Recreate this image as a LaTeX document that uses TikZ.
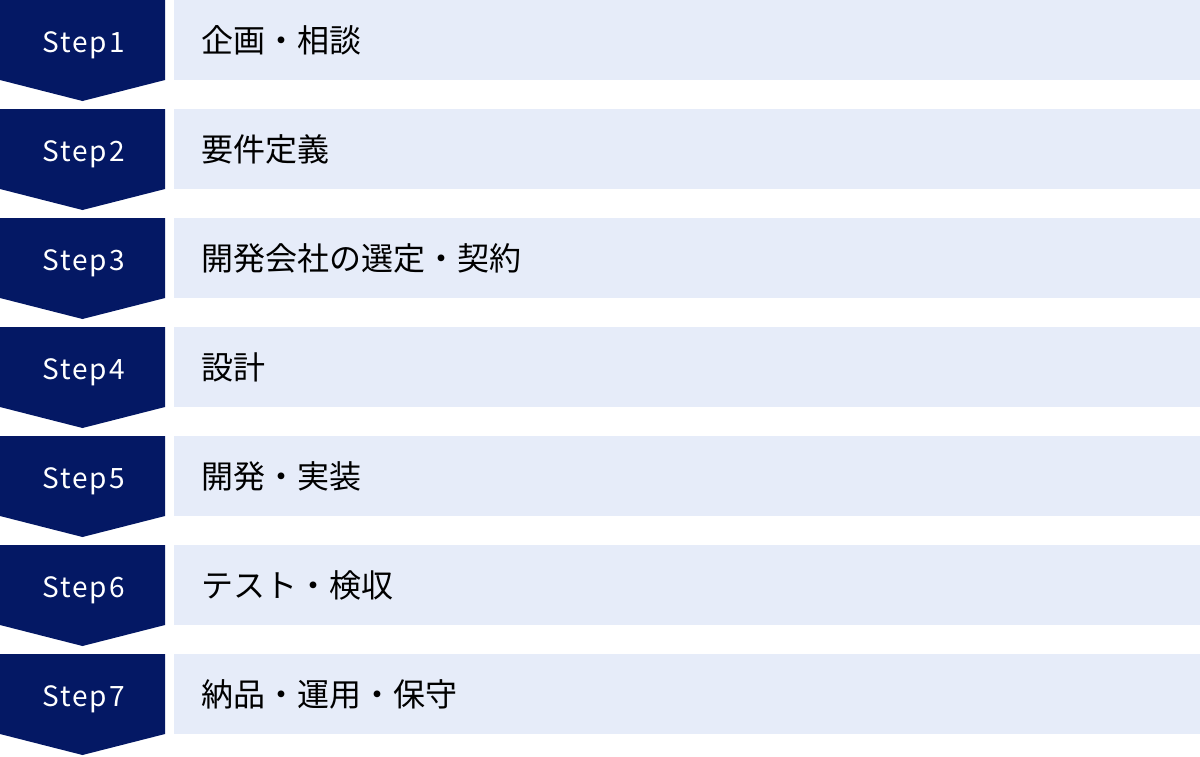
\documentclass[tikz,border=0pt]{standalone}
\usepackage{fontspec}
\setmainfont{Noto Sans CJK JP}
\newfontfamily\stepfont[LetterSpace=7]{Noto Sans CJK JP}
\usepackage{tikz}
\usepackage{xcolor}
\usetikzlibrary{positioning}
\definecolor{stepnavy}{RGB}{4, 24, 100}
\definecolor{steplight}{RGB}{230, 236, 249}
\tikzset{
    steparrow/.style={fill=stepnavy},
    steplabel/.style={text=white, anchor=base, inner sep=0pt, font=\stepfont\fontsize{28}{28}\selectfont},
    taskbar/.style={fill=steplight, anchor=north west, inner sep=0pt, minimum width=1026pt, minimum height=80pt},
    tasklabel/.style={anchor=west, inner sep=0pt, font=\fontsize{32}{32}\selectfont}
}
\begin{document}
\begin{tikzpicture}[x=1pt, y=-1pt]
    \useasboundingbox (0,0) rectangle (1200,756);
    \foreach \i/\task in {1/企画・相談, 2/要件定義, 3/開発会社の選定・契約, 4/設計,
                          5/開発・実装, 6/テスト・検収, 7/納品・運用・保守} {
        \pgfmathsetmacro{\rowtop}{(\i-1)*109}
        \fill[steparrow] (0,\rowtop) -- (165,\rowtop) -- (165,\rowtop+80)
            -- (82.5,\rowtop+101) -- (0,\rowtop+80) -- cycle;
        \node[steplabel] (step\i) at (83.5,\rowtop+52) {Step\i};
        \node[taskbar] (bar\i) at (174,\rowtop) {};
        \node[tasklabel] (task\i) at ([xshift=27pt]bar\i.west) {\task};
    }
\end{tikzpicture}
\end{document}
